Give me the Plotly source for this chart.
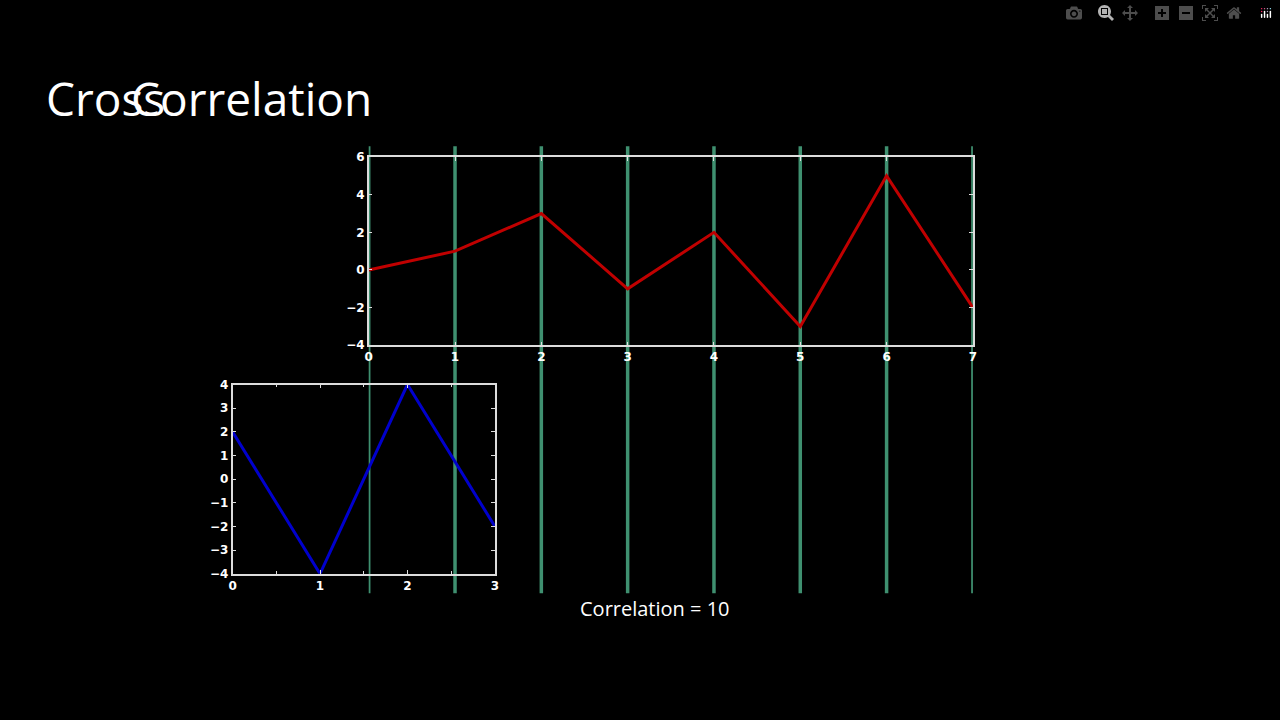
import plotly.graph_objects as go

# signal (top) and kernel (bottom)
sig_x = [0, 1, 2, 3, 4, 5, 6, 7]
sig_y = [0, 1, 3, -1, 2, -3, 5, -2]
ker_x = [0, 1, 2, 3]
ker_y = [2, -4, 4, -2]
corr_value = 10

W, H = 1280, 720
fig = go.Figure()

fig.add_trace(go.Scatter(x=sig_x, y=sig_y, mode="lines", line=dict(color="#c00000", width=3),
                         xaxis="x", yaxis="y", showlegend=False))
fig.add_trace(go.Scatter(x=ker_x, y=ker_y, mode="lines", line=dict(color="#0000cc", width=3),
                         xaxis="x2", yaxis="y2", showlegend=False))

ax = dict(showgrid=False, zeroline=False, showline=True, linecolor="#dddddd", linewidth=1.5,
          mirror="ticks", ticks="inside", ticklen=4, tickcolor="#dddddd",
          tickfont=dict(family="DejaVu Sans", size=12, color="white", weight="bold"))

fig.update_layout(
    width=W, height=H, paper_bgcolor="black", plot_bgcolor="black",
    margin=dict(l=0, r=0, t=0, b=0),
    xaxis=dict(ax, domain=[367 / W, 975 / W], range=[0, 7], dtick=1, anchor="y", ticklabelstandoff=0),
    yaxis=dict(ax, domain=[1 - 345 / H, 1 - 153 / H], range=[-4, 6], dtick=2, anchor="x"),
    xaxis2=dict(ax, domain=[230 / W, 494 / W], range=[0, 3], dtick=1, anchor="y2",
                minor=dict(dtick=0.5, ticks="inside", ticklen=3, tickcolor="#dddddd")),
    yaxis2=dict(ax, domain=[1 - 578 / H, 1 - 385 / H], range=[-4, 4], dtick=1, anchor="x2"),
)

# green alignment lines at each signal sample
for xv in sig_x:
    fig.add_shape(type="line", xref="x", yref="paper", x0=xv, x1=xv, layer="below",
                  y0=1 - 598 / H, y1=1 - 142 / H, line=dict(color="#3f9070", width=3.5))

title_font = dict(family="Open Sans", size=46, color="white")
fig.add_annotation(text="Cross", x=40 / W, y=1 - 93 / H, xref="paper", yref="paper",
                   xanchor="left", yanchor="middle", showarrow=False, font=title_font)
fig.add_annotation(text="Correlation", x=126 / W, y=1 - 93 / H, xref="paper", yref="paper",
                   xanchor="left", yanchor="middle", showarrow=False, font=title_font)
fig.add_annotation(text=f"Correlation = {corr_value}", x=655 / W, y=1 - 629 / H,
                   xref="paper", yref="paper", showarrow=False,
                   font=dict(family="Open Sans", size=20, color="white"))

fig.write_html("out.html",
               post_script="document.body.style.margin='0';document.body.style.background='black';")
